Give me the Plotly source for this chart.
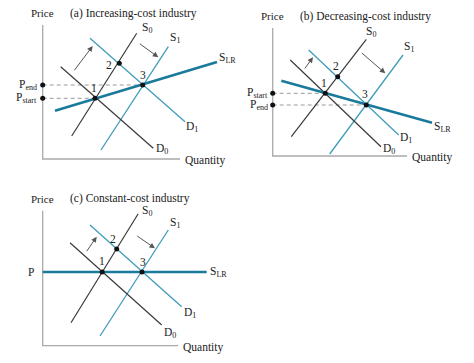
import plotly.graph_objects as go

FONT = "Liberation Serif"
BLACK = "#3a3a3a"
BLUE = "#3f9cba"
DARK_BLUE = "#1a7a9c"
AXIS = "#a9a9a9"
DASH = "#9a9a9a"

# ---------------- DATA (quantity, price) in each panel's own units ----------------
# (a) Increasing-cost industry
a_S0_q = [2.9, 9.4];    a_S0_p = [2.3, 12.57]
a_S1_q = [5.83, 12.56]; a_S1_p = [0.9, 11.23]
a_D0_q = [1.8, 11.06];  a_D0_p = [9.23, 1.07]
a_D1_q = [4.73, 14.23]; a_D1_p = [12.07, 3.73]
a_SLR_q = [1.23, 17.43]; a_SLR_p = [4.83, 9.7]
a_pts_q = [5.23, 7.66, 10.0]; a_pts_p = [6.07, 9.57, 7.4]
a_plabels = ["P<sub>end</sub>", "P<sub>start</sub>"]
a_pvals = [7.4, 6.07]
a_pq = [10.0, 5.23]
a_arrow1 = [3.06, 8.73, 5.0, 11.3]
a_arrow2 = [9.56, 11.63, 11.56, 10.17]
a_qmax, a_pmax = 13.73, 13.4

# (b) Decreasing-cost industry
b_S0_q = [1.86, 9.36];  b_S0_p = [1.93, 11.67]
b_S1_q = [5.7, 13.03];  b_S1_p = [0.2, 10.1]
b_D0_q = [1.76, 10.83]; b_D0_p = [9.6, 0.93]
b_D1_q = [3.6, 12.6];   b_D1_p = [10.6, 2.1]
b_SLR_q = [0.86, 15.93]; b_SLR_p = [7.53, 3.33]
b_pts_q = [5.26, 6.5, 9.36]; b_pts_p = [6.27, 7.93, 5.1]
b_plabels = ["P<sub>start</sub>", "P<sub>end</sub>"]
b_pvals = [6.27, 5.1]
b_pq = [5.26, 9.36]
b_arrow1 = [3.1, 8.6, 4.03, 9.87]
b_arrow2 = [8.76, 10.43, 11.26, 8.27]
b_qmax, b_pmax = 13.43, 12.8

# (c) Constant-cost industry
c_S0_q = [2.83, 9.55];  c_S0_p = [2.3, 13.2]
c_S1_q = [5.73, 12.56]; c_S1_p = [0.97, 11.57]
c_D0_q = [2.73, 11.9];  c_D0_p = [10.3, 2.07]
c_D1_q = [4.73, 13.9];  c_D1_p = [12.07, 3.9]
c_SLR_q = [0.0, 16.4];  c_SLR_p = [7.37, 7.37]
c_pts_q = [5.95, 7.4, 9.93]; c_pts_p = [7.37, 9.67, 7.37]
c_plabels = ["P"]
c_pvals = [7.37]
c_arrow1 = [4.3, 9.3, 5.4, 10.9]
c_arrow2 = [9.3, 11.07, 11.23, 9.74]
c_qmax, c_pmax = 13.53, 13.5

titles = ["(a) Increasing-cost industry", "(b) Decreasing-cost industry", "(c) Constant-cost industry"]
pt_labels = ["1", "2", "3"]

# ---------------- LAYOUT GEOMETRY ----------------
W, H = 474, 363
PX = 10.0  # pixels per unit
panels = {
    "a": dict(box=(0, 0, 237, 181.5), origin=(42.7, 159.0), n=""),
    "b": dict(box=(237, 0, 474, 181.5), origin=(272.7, 156.0), n="2"),
    "c": dict(box=(0, 181.5, 237, 363), origin=(42.7, 345.7), n="3"),
}

fig = go.Figure()
layout = dict(width=W, height=H, margin=dict(l=0, r=0, t=0, b=0),
              paper_bgcolor="white", plot_bgcolor="white", showlegend=False,
              font=dict(family=FONT, color="#222", size=11))
annotations = []

def add_panel(key, curves, pts_q, pts_p, plabels, pvals, pq, arrows, qmax, pmax,
              title, curve_labels, pt_shift, dashed, plabel_shift):
    p = panels[key]
    l, t, r, b = p["box"]
    ox, oy = p["origin"]
    n = p["n"]
    xa, ya = "x" + n, "y" + n
    layout["xaxis" + n] = dict(domain=[l / W, r / W], range=[(l - ox) / PX, (r - ox) / PX],
                               visible=False, anchor=ya, fixedrange=True)
    layout["yaxis" + n] = dict(domain=[1 - b / H, 1 - t / H], range=[(oy - b) / PX, (oy - t) / PX],
                               visible=False, anchor=xa, fixedrange=True)
    fig.add_trace(go.Scatter(x=[0, 0, qmax], y=[pmax, 0, 0], mode="lines",
                             line=dict(color=AXIS, width=1.3), xaxis=xa, yaxis=ya, hoverinfo="skip"))
    if dashed:
        for pv, q in zip(pvals, pq):
            fig.add_trace(go.Scatter(x=[0, q], y=[pv, pv], mode="lines",
                                     line=dict(color=DASH, width=1, dash="4px,3px"),
                                     xaxis=xa, yaxis=ya, hoverinfo="skip"))
        fig.add_trace(go.Scatter(x=[0] * len(pvals), y=pvals, mode="markers",
                                 marker=dict(color="#111", size=5), xaxis=xa, yaxis=ya, hoverinfo="skip"))
    for (q, pr, color, width) in curves:
        fig.add_trace(go.Scatter(x=q, y=pr, mode="lines", line=dict(color=color, width=width),
                                 xaxis=xa, yaxis=ya, hoverinfo="skip"))
    fig.add_trace(go.Scatter(x=pts_q, y=pts_p, mode="markers", marker=dict(color="#111", size=5),
                             xaxis=xa, yaxis=ya, hoverinfo="skip"))
    for lbl, q, pr, (dx, dy) in zip(pt_labels, pts_q, pts_p, pt_shift):
        annotations.append(dict(x=q, y=pr, xref=xa, yref=ya, text=lbl, showarrow=False,
                                xshift=dx, yshift=dy, font=dict(size=11.5)))
    for lbl, pv in zip(plabels, pvals):
        annotations.append(dict(x=0, y=pv, xref=xa, yref=ya, text=lbl, showarrow=False,
                                xanchor="right", xshift=plabel_shift, font=dict(size=11.5)))
    for (x0, y0, x1, y1) in arrows:
        annotations.append(dict(x=x1, y=y1, ax=x0, ay=y0, xref=xa, yref=ya, axref=xa, ayref=ya,
                                text="", showarrow=True, arrowhead=2, arrowsize=1.1,
                                arrowwidth=1, arrowcolor="#555"))
    for (txt, q, pr) in curve_labels:
        annotations.append(dict(x=q, y=pr, xref=xa, yref=ya, text=txt, showarrow=False,
                                xanchor="center", yanchor="middle", font=dict(size=11.5)))
    annotations.append(dict(x=0, y=pmax + 1.2, xref=xa, yref=ya, text="Price", showarrow=False,
                            xanchor="center", yanchor="middle", font=dict(size=11)))
    annotations.append(dict(x=2.5, y=pmax + 1.2, xref=xa, yref=ya, text=title, showarrow=False,
                            xanchor="left", yanchor="middle", font=dict(size=11.5)))
    annotations.append(dict(x=qmax + 0.3, y=-0.15, xref=xa, yref=ya, text="Quantity", showarrow=False,
                            xanchor="left", yanchor="middle", font=dict(size=11.5)))

add_panel("a",
          [(a_S0_q, a_S0_p, BLACK, 1.2), (a_S1_q, a_S1_p, BLUE, 1.3), (a_D0_q, a_D0_p, BLACK, 1.2),
           (a_D1_q, a_D1_p, BLUE, 1.3), (a_SLR_q, a_SLR_p, DARK_BLUE, 2.6)],
          a_pts_q, a_pts_p, a_plabels, a_pvals, a_pq, [a_arrow1, a_arrow2], a_qmax, a_pmax, titles[0],
          [("S<sub>0</sub>", 10.4, 13.1), ("S<sub>1</sub>", 13.2, 12.1), ("D<sub>0</sub>", 11.9, 1.0),
           ("D<sub>1</sub>", 14.9, 3.2), ("S<sub>LR</sub>", 18.5, 10.1)],
          [(-1, 10), (-10, -2), (0, 10)], True, -4)

add_panel("b",
          [(b_S0_q, b_S0_p, BLACK, 1.2), (b_S1_q, b_S1_p, BLUE, 1.3), (b_D0_q, b_D0_p, BLACK, 1.2),
           (b_D1_q, b_D1_p, BLUE, 1.3), (b_SLR_q, b_SLR_p, DARK_BLUE, 2.6)],
          b_pts_q, b_pts_p, b_plabels, b_pvals, b_pq, [b_arrow1, b_arrow2], b_qmax, b_pmax, titles[1],
          [("S<sub>0</sub>", 9.8, 12.4), ("S<sub>1</sub>", 13.6, 10.9), ("D<sub>0</sub>", 11.6, 0.7),
           ("D<sub>1</sub>", 13.3, 1.8), ("S<sub>LR</sub>", 17.0, 2.9)],
          [(-1, 10), (-2, 11), (-1, 11)], True, -3)

add_panel("c",
          [(c_S0_q, c_S0_p, BLACK, 1.2), (c_S1_q, c_S1_p, BLUE, 1.3), (c_D0_q, c_D0_p, BLACK, 1.2),
           (c_D1_q, c_D1_p, BLUE, 1.3), (c_SLR_q, c_SLR_p, DARK_BLUE, 2.6)],
          c_pts_q, c_pts_p, c_plabels, c_pvals, [], [c_arrow1, c_arrow2], c_qmax, c_pmax, titles[2],
          [("S<sub>0</sub>", 10.4, 13.5), ("S<sub>1</sub>", 13.2, 12.3), ("D<sub>0</sub>", 12.7, 1.3),
           ("D<sub>1</sub>", 14.7, 3.3), ("S<sub>LR</sub>", 17.6, 7.37)],
          [(0, 11), (-4, 10), (1, 10)], False, -7)

layout["annotations"] = annotations
fig.update_layout(**layout)
fig.write_html("out.html")
